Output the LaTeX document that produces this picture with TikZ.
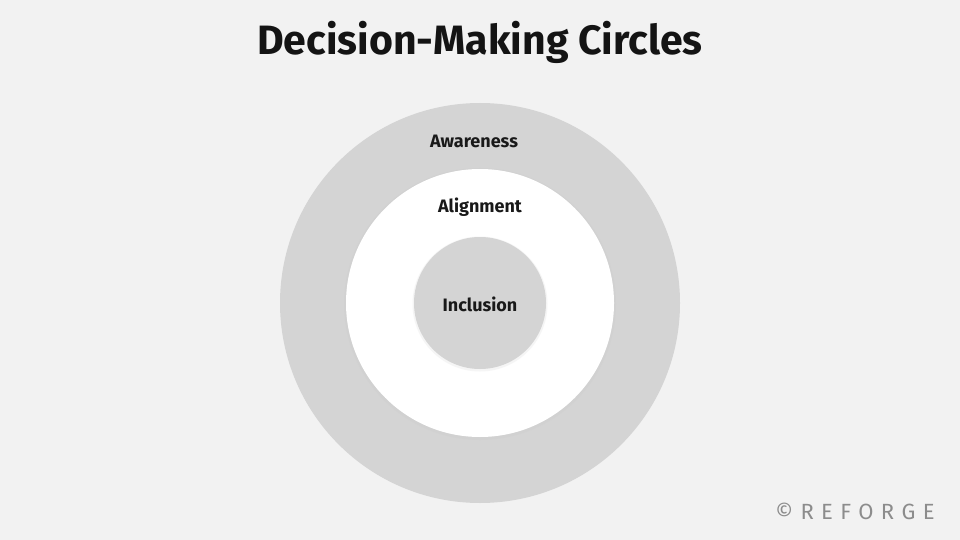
\documentclass[tikz,border=0pt]{standalone}
\usepackage{fontspec}
\setmainfont{Fira Sans}
\begin{document}
\begin{tikzpicture}[x=1pt,y=-1pt,
  lbl/.style={font=\fontsize{18}{20}\selectfont\bfseries, text=black!90}]
\fill[black!5] (0,0) rectangle (960,540);
\useasboundingbox (0,0) rectangle (960,540);
\node[font=\fontsize{41}{44}\selectfont\bfseries, text=black!92] (title) at (480,42) {Decision-Making Circles};
\fill[black!17] (480,303) circle (200);
\fill[black!20,opacity=0.3] (480,304) circle (136);
\fill[white] (480,303) circle (134);
\fill[black!12,opacity=0.3] (480,304) circle (67.5);
\fill[black!17] (480,303) circle (66);
\node[lbl] (aw) at (474,141) {Awareness};
\node[lbl] (al) at (480,207) {Alignment};
\node[lbl] (in) at (480,304) {Inclusion};
\node[font=\fontsize{22}{24}\selectfont, text=black!45] (rf) at (855,511) {©\,\,R\,\,E\,\,F\,\,O\,\,R\,\,G\,\,E};
\end{tikzpicture}
\end{document}
